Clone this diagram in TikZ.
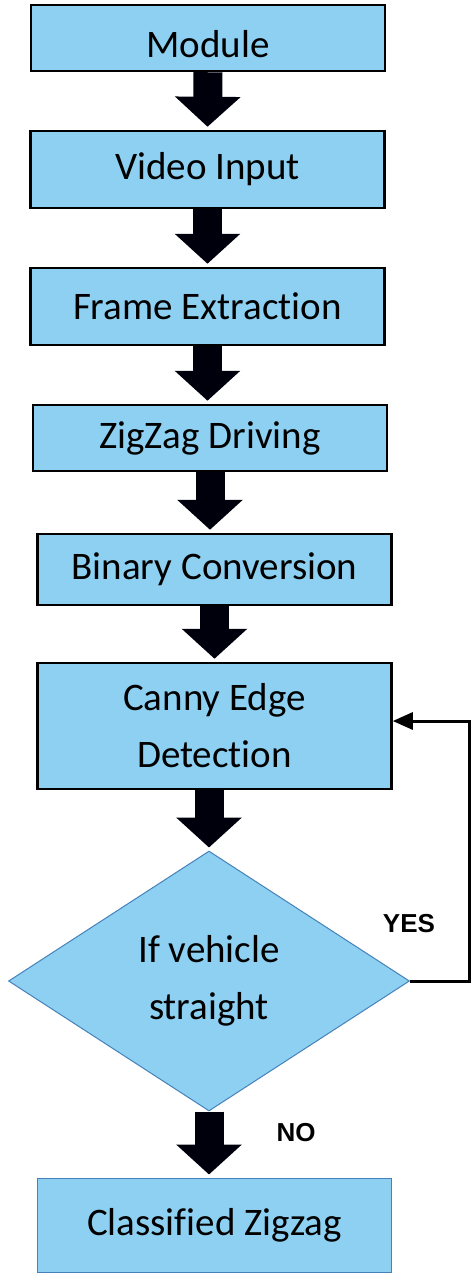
\documentclass[tikz,border=0pt]{standalone}
\usepackage{fontspec}
\setmainfont{Carlito}[RawFeature={-liga;-clig}]
\newfontfamily\decfont{Liberation Sans}
\usetikzlibrary{shapes.geometric,arrows.meta}
\definecolor{boxblue}{RGB}{141,208,242}
\definecolor{rimblue}{RGB}{70,130,185}
\begin{document}
\begin{tikzpicture}[x=1pt,y=-1pt,
  stage/.style={draw=black,line width=2.5pt,fill=boxblue,minimum width=354pt,inner sep=0pt,
    font=\fontsize{39}{57}\selectfont,align=center},
  test/.style={diamond,draw=rimblue,line width=1pt,fill=boxblue,minimum width=401pt,minimum height=260pt,
    inner sep=0pt,font=\fontsize{39}{57}\selectfont,align=center},
  fatarrow/.style={draw=black!95!blue,line width=29pt,shorten >=3pt,-{Triangle[width=64pt,length=30pt]}},
  loopline/.style={draw=black,line width=3pt,-{Triangle[width=17pt,length=20pt]}},
  answer/.style={font=\decfont\bfseries\fontsize{26}{30}\selectfont}]
\useasboundingbox (0,0) rectangle (475,1275);
\node[stage,minimum height=66pt,text height=38pt,text depth=0pt] (mod) at (208,38) {Module};
\node[stage,minimum height=77pt] (vid) at (207.5,169.5) {Video Input};
\node[stage,minimum height=77pt] (frm) at (207.5,306.5) {Frame Extraction};
\node[stage,minimum height=66pt] (zig) at (210,438) {ZigZag Driving};
\node[stage,minimum height=71pt] (bin) at (214.5,569.5) {Binary Conversion};
\node[stage,minimum height=126pt] (can) at (214.5,726) {Canny Edge\\Detection};
\node[test] (dia) at (209,981) {If vehicle\\straight};
\node[stage,draw=rimblue,line width=1pt,minimum height=94pt] (cls) at (214.5,1225) {Classified Zigzag};
\draw[fatarrow] (mod.south) -- (vid.north);
\draw[fatarrow] (vid.south) -- (frm.north);
\draw[fatarrow] (frm.south) -- (frm.south |- zig.north);
\draw[fatarrow] (zig.south) -- (zig.south |- bin.north);
\draw[fatarrow] (bin.south) -- (can.north);
\draw[fatarrow] (can.south -| dia.north) -- (dia.north);
\draw[fatarrow] (dia.south) -- (dia.south |- cls.north);
\coordinate (back) at (469,721);
\draw[loopline] (dia.east) -| (back) -- (can.east |- back);
\node[answer] (yes) at (409,924) {YES};
\node[answer] (no) at (296,1133) {NO};
\end{tikzpicture}
\end{document}
